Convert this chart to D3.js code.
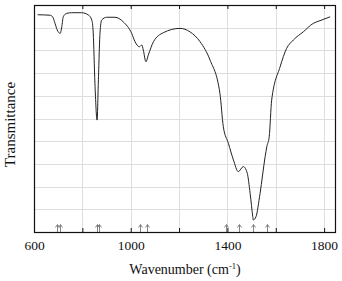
<!DOCTYPE html>
<html>
<head>
<meta charset="utf-8">
<script src="https://cdn.jsdelivr.net/npm/d3@7"></script>
<style>
  body { margin: 0; background: #fff; }
  svg { display: block; font-family: "Liberation Serif", "Times New Roman", serif; }
</style>
</head>
<body>
<svg width="342" height="281"></svg>
<script>
// Spectrum: wavenumber (cm-1) and relative transmittance (0..10)
const wavenumbers = [615, 666, 677, 687, 696, 708, 715, 721, 735, 756, 797, 825, 839, 845, 852, 861, 866, 873, 880, 901,
  935, 969, 1004, 1018, 1036, 1046, 1052, 1063, 1073, 1094, 1135, 1204, 1245, 1287, 1328, 1369, 1383, 1404, 1425, 1445,
  1466, 1482, 1494, 1505, 1507, 1518, 1535, 1556, 1563, 1573, 1583, 1618, 1645, 1673, 1714, 1755, 1783, 1825];
const transmittance = [9.57, 9.55, 9.48, 9.19, 8.90, 8.75, 9.04, 9.48, 9.63, 9.66, 9.66, 9.56, 9.34, 8.77, 6.56, 4.93, 6.56, 8.77, 9.34, 9.46,
  9.46, 9.26, 8.75, 8.38, 8.16, 8.24, 8.02, 7.50, 7.80, 8.38, 8.78, 8.97, 8.82, 8.38, 7.58, 6.11, 4.64, 3.91, 3.17, 2.66,
  2.88, 2.59, 1.70, 0.67, 0.53, 0.67, 1.70, 3.32, 3.76, 4.20, 5.81, 7.28, 8.09, 8.46, 8.82, 9.19, 9.31, 9.48];

// Peak marker positions (small arrows along the bottom)
const peakMarks = [694, 707, 859, 869, 1038, 1066, 1394, 1449, 1507, 1563];

// Axis ticks
const majorTicks = [600, 1000, 1400, 1800];
const minorTicks = [800, 1200, 1600];
const gridY = [1, 2, 3, 4, 5, 6, 7, 8, 9];

const svg = d3.select('svg');
const margin = { left: 34, top: 5, right: 335, bottom: 232 };

const x = d3.scaleLinear().domain([600, 1845]).range([margin.left, margin.right]);
const y = d3.scaleLinear().domain([0, 10]).range([margin.bottom, margin.top]);

// Grid
const grid = svg.append('g').attr('stroke', '#dedede').attr('stroke-width', 1);
grid.selectAll('.gx')
  .data(majorTicks.concat(minorTicks).filter(d => d > 600))
  .enter().append('line')
    .attr('x1', d => Math.round(x(d)) + 0.5).attr('x2', d => Math.round(x(d)) + 0.5)
    .attr('y1', margin.top).attr('y2', margin.bottom);
grid.selectAll('.gy')
  .data(gridY)
  .enter().append('line')
    .attr('x1', margin.left).attr('x2', margin.right)
    .attr('y1', d => Math.round(y(d)) + 0.5).attr('y2', d => Math.round(y(d)) + 0.5);

// Peak arrows
const arrows = svg.append('g').attr('stroke', '#666').attr('fill', 'none').attr('stroke-width', 0.8);
peakMarks.forEach(w => {
  const px = Math.round(x(w)) + 0.5;
  arrows.append('line').attr('x1', px).attr('x2', px).attr('y1', margin.bottom).attr('y2', margin.bottom - 7);
  arrows.append('path').attr('d', `M${px - 2},${margin.bottom - 4.5}L${px},${margin.bottom - 7.5}L${px + 2},${margin.bottom - 4.5}`);
});

// Bottom axis with inward ticks
const xAxis = d3.axisBottom(x).tickValues(majorTicks.concat(minorTicks))
  .tickSize(-4).tickPadding(8)
  .tickFormat(d => majorTicks.includes(d) ? d : '');
const gx = svg.append('g').attr('transform', `translate(0,${margin.bottom})`).call(xAxis);
gx.attr('font-family', null);
gx.select('.domain').remove();
gx.selectAll('text').attr('font-size', 13.5).attr('fill', '#111');
gx.selectAll('line').attr('stroke', '#111');

// Top axis ticks
const gt = svg.append('g').attr('transform', `translate(0,${margin.top})`)
  .call(d3.axisTop(x).tickValues(majorTicks.concat(minorTicks)).tickSize(-4).tickFormat(''));
gt.select('.domain').remove();
gt.selectAll('line').attr('stroke', '#111');

// Frame
svg.append('rect')
  .attr('x', margin.left + 0.5).attr('y', margin.top + 0.5)
  .attr('width', margin.right - margin.left).attr('height', margin.bottom - margin.top)
  .attr('fill', 'none').attr('stroke', '#111').attr('stroke-width', 1.2);

// Spectrum line
const pts = wavenumbers.map((w, i) => [w, transmittance[i]]);
const line = d3.line().x(d => x(d[0])).y(d => y(d[1])).curve(d3.curveMonotoneX);
svg.append('path')
  .datum(pts)
  .attr('d', line)
  .attr('fill', 'none')
  .attr('stroke', '#222')
  .attr('stroke-width', 1);

// Axis titles
const xt = svg.append('text')
  .attr('x', 185).attr('y', 274)
  .attr('text-anchor', 'middle').attr('font-size', 14).attr('fill', '#111');
xt.append('tspan').text('Wavenumber (cm');
xt.append('tspan').attr('dy', -5).attr('font-size', 8.5).text('-1');
xt.append('tspan').attr('dy', 5).text(')');

svg.append('text')
  .attr('transform', `translate(15,${(margin.top + margin.bottom) / 2 + 6}) rotate(-90)`)
  .attr('text-anchor', 'middle').attr('font-size', 15).attr('fill', '#111')
  .text('Transmittance');
</script>
</body>
</html>
